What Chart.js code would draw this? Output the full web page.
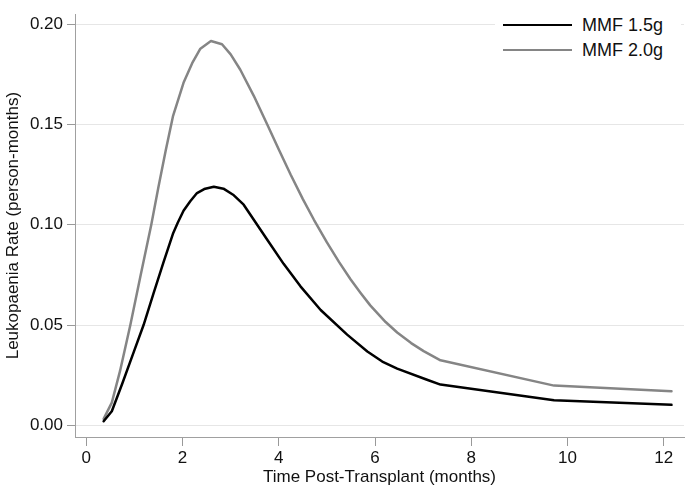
<!DOCTYPE html>
<html>
<head>
<meta charset="utf-8">
<script src="https://cdn.jsdelivr.net/npm/chart.js@4.4.1/dist/chart.umd.min.js"></script>
<style>
    html, body { margin: 0; padding: 0; background: #fff; }
    #wrap { position: relative; width: 685px; height: 488px; }
    #legend {
        position: absolute; left: 495px; top: 8px; width: 186px; height: 60px;
        background: #fff; font-family: "Liberation Sans", Arial, Helvetica, sans-serif;
        font-size: 18px; color: #111;
    }
    #legend .row { position: absolute; left: 8px; height: 20px; display: flex; align-items: center; }
    #legend .swatch { width: 69px; height: 0; margin-right: 10px; }
</style>
</head>
<body>
<div id="wrap">
    <canvas id="chart" width="685" height="488"></canvas>
    <div id="legend"></div>
</div>
<script>
    'use strict';

    // Time post-transplant (months) and rate per person-month
    const t15 = [0.36, 0.53, 0.75, 1.00, 1.19, 1.40, 1.60, 1.80, 1.90, 2.02, 2.16, 2.30, 2.45, 2.65, 2.85,
        3.05, 3.27, 3.41, 3.76, 4.10, 4.45, 4.87, 5.42, 5.84, 6.15, 6.46, 7.08, 7.36, 9.72, 12.16];
    const rate15 = [0.002, 0.007, 0.021, 0.0375, 0.050, 0.066, 0.081, 0.0955, 0.101, 0.107, 0.1117, 0.1158, 0.1178, 0.119, 0.118,
        0.115, 0.110, 0.105, 0.0925, 0.0805, 0.0693, 0.0575, 0.0452, 0.0368, 0.0318, 0.0283, 0.0227, 0.0203, 0.0125, 0.0102];

    const t20 = [0.36, 0.53, 0.70, 0.915, 1.13, 1.35, 1.50, 1.65, 1.80, 2.02, 2.20, 2.37, 2.59, 2.82, 3.00,
        3.20, 3.48, 3.76, 4.00, 4.25, 4.50, 4.73, 5.00, 5.25, 5.49, 5.70, 5.90, 6.22, 6.46, 6.75, 7.01, 7.36, 9.72, 12.16];
    const rate20 = [0.0032, 0.0113, 0.027, 0.050, 0.075, 0.100, 0.119, 0.137, 0.154, 0.1708, 0.1806, 0.1878, 0.1916, 0.190, 0.185,
        0.1773, 0.1643, 0.150, 0.1375, 0.1248, 0.1128, 0.1025, 0.0912, 0.0815, 0.0728, 0.066, 0.0598, 0.0515, 0.0463, 0.041, 0.037, 0.0324, 0.0198, 0.0170];

    const seriesNames = ['MMF 1.5g', 'MMF 2.0g'];
    const xTicks = [0, 2, 4, 6, 8, 10, 12];
    const yTicks = [0, 0.05, 0.10, 0.15, 0.20];

    const font = { family: '"Liberation Sans", Arial, Helvetica, sans-serif', size: 17 };

    function toPoints(xs, ys) {
        return xs.map((x, i) => ({ x: x, y: ys[i] }));
    }

    const chart = new Chart(document.getElementById('chart').getContext('2d'), {
        type: 'line',
        data: {
            datasets: [{
                label: seriesNames[0],
                data: toPoints(t15, rate15),
                borderColor: '#000000',
                borderWidth: 2.5
            }, {
                label: seriesNames[1],
                data: toPoints(t20, rate20),
                borderColor: '#858585',
                borderWidth: 2.5
            }]
        },
        options: {
            responsive: false,
            animation: false,
            layout: { padding: { top: 3, right: 1, left: 0, bottom: 0 } },
            elements: {
                point: { radius: 0 },
                line: { tension: 0, borderJoinStyle: 'round', borderCapStyle: 'round' }
            },
            plugins: {
                legend: { display: false },
                tooltip: { enabled: false }
            },
            scales: {
                x: {
                    type: 'linear',
                    min: -0.235,
                    max: 12.42,
                    afterBuildTicks: s => { s.ticks = xTicks.map(v => ({ value: v })); },
                    afterFit: s => { s.height = 51; },
                    ticks: { font: font, color: '#111', padding: 2, maxRotation: 0 },
                    grid: { drawOnChartArea: false, drawTicks: true, tickLength: 9, tickColor: '#999', tickWidth: 1 },
                    border: { color: '#a0a0a0', width: 1 },
                    title: { display: true, text: 'Time Post-Transplant (months)', font: font, color: '#111', padding: { top: 0, bottom: 0 } }
                },
                y: {
                    min: -0.00583,
                    max: 0.205,
                    afterBuildTicks: s => { s.ticks = yTicks.map(v => ({ value: v })); },
                    afterFit: s => { s.width = 75; },
                    ticks: { font: font, color: '#111', padding: 4, callback: v => Number(v).toFixed(2) },
                    grid: { color: '#e6e6e6', lineWidth: 1, drawTicks: true, tickLength: 8, tickColor: '#999', tickWidth: 1 },
                    border: { color: '#a0a0a0', width: 1 },
                    title: { display: true, text: 'Leukopaenia Rate (person-months)', font: font, color: '#111', padding: { top: 3, bottom: 0 } }
                }
            }
        }
    });

    // legend sits inside the plot, top right, over the gridline
    const legendEl = document.getElementById('legend');
    chart.data.datasets.forEach(function (ds, i) {
        const row = document.createElement('div');
        row.className = 'row';
        row.style.top = (7 + i * 25) + 'px';
        row.innerHTML = '<span class="swatch" style="border-top:2.5px solid ' + ds.borderColor + '"></span>' +
            '<span>' + ds.label + '</span>';
        legendEl.appendChild(row);
    });
</script>
</body>
</html>
